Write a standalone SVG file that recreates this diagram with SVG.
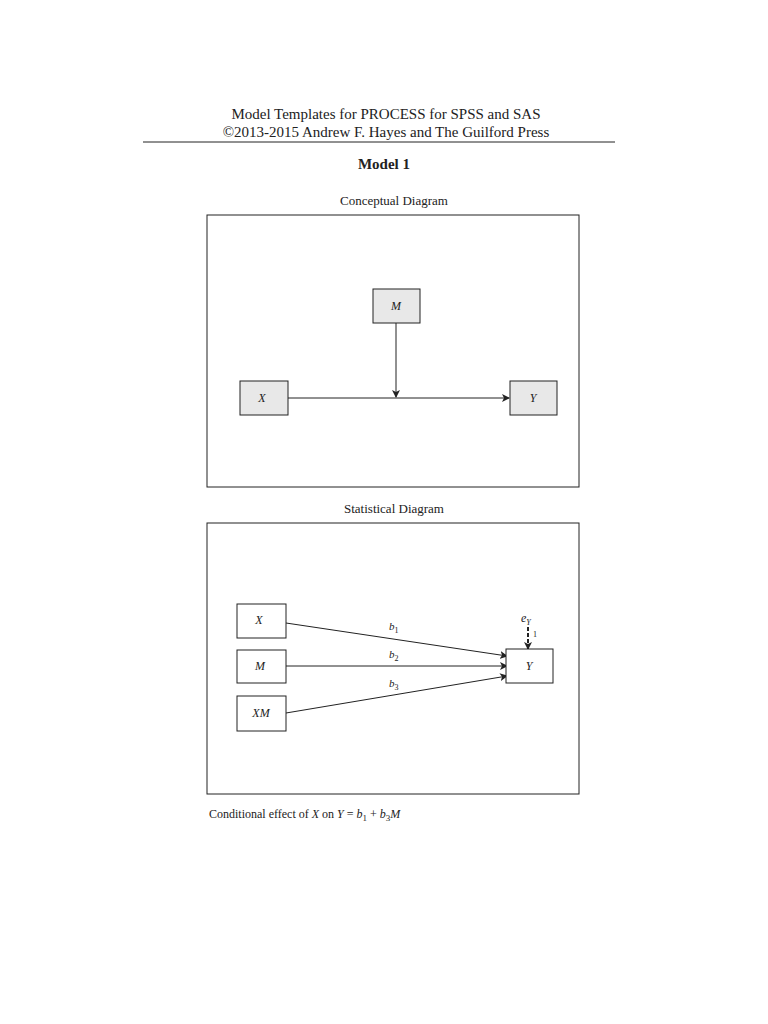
<svg xmlns="http://www.w3.org/2000/svg" width="768" height="1024" viewBox="0 0 768 1024">
<style>
text{font-family:"Liberation Serif",serif;fill:#222}
.n{fill:#e8e8e8;stroke:#222;stroke-width:1}
.w{fill:#fff;stroke:#222;stroke-width:1}
.l{stroke:#222;stroke-width:1;fill:none}
.i{font-style:italic}
</style>
<defs><marker id="a" markerWidth="8" markerHeight="8" refX="7" refY="4" orient="auto" markerUnits="userSpaceOnUse"><path d="M0,0 L8,4 L0,8 L2,4 Z" fill="#222"/></marker></defs>
<rect width="768" height="1024" fill="#fff"/>
<text x="386" y="119" font-size="15" text-anchor="middle">Model Templates for PROCESS for SPSS and SAS</text>
<text x="386" y="137" font-size="15" text-anchor="middle">©2013-2015 Andrew F. Hayes and The Guilford Press</text>
<line x1="143" y1="142" x2="615" y2="142" class="l"/>
<text x="384" y="169" font-size="15" font-weight="bold" text-anchor="middle">Model 1</text>
<text x="394" y="205" font-size="13" text-anchor="middle">Conceptual Diagram</text>
<rect x="207" y="215" width="372" height="272" class="l"/>
<text x="394" y="513" font-size="13" text-anchor="middle">Statistical Diagram</text>
<rect x="207" y="523" width="372" height="271" class="l"/>
<g id="connectors">
<line x1="396" y1="323" x2="396" y2="397" class="l" marker-end="url(#a)"/>
<line x1="288" y1="398" x2="509" y2="398" class="l" marker-end="url(#a)"/>
<line x1="286" y1="623" x2="507" y2="656" class="l" marker-end="url(#a)"/>
<line x1="286" y1="666" x2="507" y2="666" class="l" marker-end="url(#a)"/>
<line x1="286" y1="713" x2="507" y2="676" class="l" marker-end="url(#a)"/>
<line x1="528" y1="627" x2="528" y2="649" stroke="#222" stroke-width="2" stroke-dasharray="4,2" marker-end="url(#a)"/>
</g>
<g id="cM"><rect x="373" y="289" width="47" height="34" class="n"/><text x="396" y="310" font-size="12" class="i" text-anchor="middle">M</text></g>
<g id="cX"><rect x="240" y="381" width="48" height="34" class="n"/><text x="262" y="402" font-size="12" class="i" text-anchor="middle">X</text></g>
<g id="cY"><rect x="510" y="381" width="47" height="34" class="n"/><text x="533" y="402" font-size="12" class="i" text-anchor="middle">Y</text></g>
<g id="sX"><rect x="237" y="604" width="49" height="34" class="w"/><text x="259" y="624" font-size="12" class="i" text-anchor="middle">X</text></g>
<g id="sM"><rect x="237" y="650" width="49" height="33" class="w"/><text x="260" y="670" font-size="12" class="i" text-anchor="middle">M</text></g>
<g id="sXM"><rect x="237" y="696" width="49" height="35" class="w"/><text x="261" y="717" font-size="12" class="i" text-anchor="middle">XM</text></g>
<g id="sY"><rect x="506" y="649" width="47" height="34" class="w"/><text x="529" y="670" font-size="12" class="i" text-anchor="middle">Y</text></g>
<g id="labels" font-size="11">
<text x="389" y="630" class="i">b<tspan font-size="8" font-style="normal" dy="3">1</tspan></text>
<text x="389" y="658" class="i">b<tspan font-size="8" font-style="normal" dy="3">2</tspan></text>
<text x="389" y="687" class="i">b<tspan font-size="8" font-style="normal" dy="3">3</tspan></text>
<text x="521" y="622" class="i" font-size="12">e<tspan font-size="8" dy="3">Y</tspan></text>
<text x="533" y="637" font-size="8">1</text>
</g>
<text x="209" y="818" font-size="12">Conditional effect of <tspan class="i">X</tspan> on <tspan class="i">Y</tspan> = <tspan class="i">b</tspan><tspan font-size="9" dy="3">1</tspan><tspan dy="-3"> + </tspan><tspan class="i">b</tspan><tspan font-size="9" dy="3">3</tspan><tspan class="i" dy="-3">M</tspan></text>
</svg>
